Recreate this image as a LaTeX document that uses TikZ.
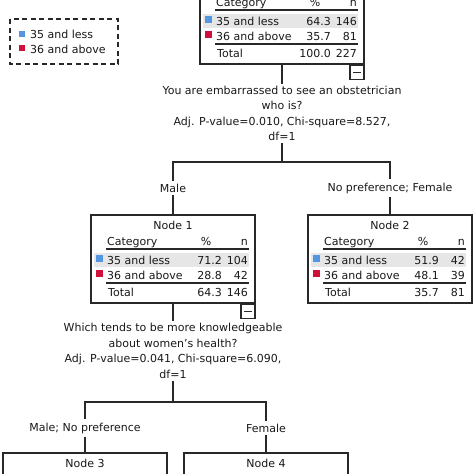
\documentclass[tikz,border=0pt]{standalone}
\usepackage{fontspec}
\setmainfont{DejaVu Sans}
\definecolor{lessblue}{RGB}{85,150,225}
\definecolor{abovered}{RGB}{208,16,58}
\definecolor{rowgray}{RGB}{230,230,230}
\definecolor{linegray}{RGB}{40,40,40}
\tikzset{
  txt/.style={inner sep=0pt, text=black!90, font=\fontsize{11}{15.5}\selectfont},
  splittxt/.style={txt, align=center, inner sep=2pt},
  lab/.style={txt, inner sep=3pt},
  conn/.style={draw=linegray, line width=1.1pt},
  tbox/.style={draw=linegray, line width=1.1pt, minimum width=164pt, minimum height=88pt, inner sep=0pt},
  minusbox/.style={draw=linegray, line width=1.1pt, fill=white, minimum size=14pt, inner sep=0pt,
    path picture={\draw[linegray, line width=1.1pt] ([xshift=3pt]path picture bounding box.west) -- ([xshift=-3pt]path picture bounding box.east);}},
  legendbox/.style={draw=linegray, line width=1.1pt, dash pattern=on 5pt off 3.5pt},
}
% table of one tree node: name, top left corner, title, row values
\newcommand{\cattable}[9]{%
  \begin{scope}[shift={(#2)}]
    \fill[rowgray] (3,38) rectangle (158,52);
    \node[tbox] (#1) at (82,44) {};
    \node[txt, anchor=base] (#1-title) at (82,14) {#3};
    \node[txt, anchor=base west] (#1-cat) at (16,30.5) {Category};
    \node[txt, anchor=base] (#1-pct) at (115,30.5) {\%};
    \node[txt, anchor=base east] (#1-n) at (157,30.5) {n};
    \draw[conn] (15,34) -- (158,34);
    \fill[lessblue] (5,40) rectangle (12,47);
    \node[txt, anchor=base west] (#1-a) at (16,49) {35 and less};
    \node[txt, anchor=base east] (#1-ap) at (131,49) {#4};
    \node[txt, anchor=base east] (#1-an) at (157,49) {#5};
    \fill[abovered] (5,55) rectangle (12,62);
    \node[txt, anchor=base west] (#1-b) at (16,64) {36 and above};
    \node[txt, anchor=base east] (#1-bp) at (131,64) {#6};
    \node[txt, anchor=base east] (#1-bn) at (157,64) {#7};
    \draw[conn] (15,68) -- (158,68);
    \node[txt, anchor=base west] (#1-t) at (17,81) {Total};
    \node[txt, anchor=base east] (#1-tp) at (131,81) {#8};
    \node[txt, anchor=base east] (#1-tn) at (157,81) {#9};
  \end{scope}}

\begin{document}
\begin{tikzpicture}[x=1pt, y=-1pt]
\useasboundingbox (0,0) rectangle (474,474);
\fill[white] (0,0) rectangle (474,474);
\clip (0,0) rectangle (474,474);

% legend
\draw[legendbox] (10,19) rectangle (118,64);
\fill[lessblue] (19,31) rectangle (25,37);
\node[txt, anchor=base west] (leg1) at (30,38) {35 and less};
\fill[abovered] (19,45) rectangle (25,51);
\node[txt, anchor=base west] (leg2) at (30,53) {36 and above};

% first level
\cattable{root}{200,-24}{}{64.3}{146}{35.7}{81}{100.0}{227}
\node[minusbox, anchor=north east] (rootmin) at (root.south east) {};
\node[splittxt] (split1) at (282,113.5) {You are embarrassed to see an obstetrician\\who is?\\Adj. P-value=0.010, Chi-square=8.527,\\df=1};
\coordinate (fork1) at (282,162);
\node[lab] (lab1) at (173,188) {Male};
\node[lab] (lab2) at (390,188) {No preference; Female};

\cattable{node1}{91,215}{Node 1}{71.2}{104}{28.8}{42}{64.3}{146}
\node[minusbox, anchor=north east] (node1min) at (node1.south east) {};
\cattable{node2}{308,215}{Node 2}{51.9}{42}{48.1}{39}{35.7}{81}

\draw[conn] (root) -- (split1);
\draw[conn] (split1) -- (fork1);
\draw[conn] (fork1) -| (lab1);
\draw[conn] (fork1) -| (lab2);
\draw[conn] (lab1) -- (node1);
\draw[conn] (lab2) -- (node2);

% second level
\node[splittxt] (split2) at (173,351) {Which tends to be more knowledgeable\\about women's health?\\Adj. P-value=0.041, Chi-square=6.090,\\df=1};
\coordinate (fork2) at (173,402);
\node[lab] (lab3) at (85,428) {Male; No preference};
\node[lab] (lab4) at (266,428) {Female};
\node[tbox] (node3) at (85,497) {};
\node[txt, anchor=base] (node3-title) at (85,467) {Node 3};
\node[tbox] (node4) at (266,497) {};
\node[txt, anchor=base] (node4-title) at (266,467) {Node 4};

\draw[conn] (node1) -- (split2);
\draw[conn] (split2) -- (fork2);
\draw[conn] (fork2) -| (lab3);
\draw[conn] (fork2) -| (lab4);
\draw[conn] (lab3) -- (node3);
\draw[conn] (lab4) -- (node4);
\end{tikzpicture}
\end{document}
